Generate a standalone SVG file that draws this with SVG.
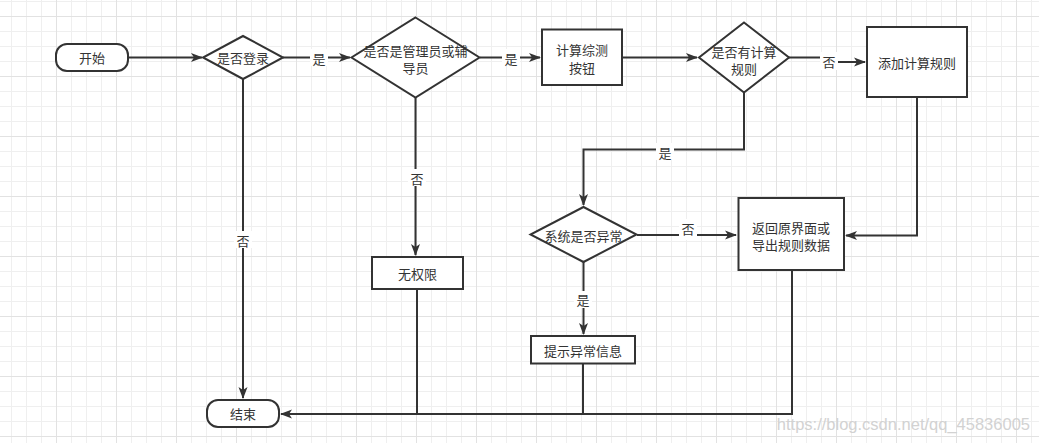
<svg xmlns="http://www.w3.org/2000/svg" width="1039" height="443" viewBox="0 0 1039 443">
<style>
.n{fill:#fff;stroke:#333;stroke-width:2}
.t{font-family:"Noto Sans CJK SC","Noto Sans CJK JP",sans-serif;font-size:13px;fill:#333;text-anchor:middle;dominant-baseline:central}
.c{fill:none;stroke:#333;stroke-width:2}
.lb{fill:#fff}
</style>
<defs>
<pattern id="grid" width="60" height="60" patternUnits="userSpaceOnUse" x="-4" y="-44">
<rect width="60" height="60" fill="#fff"/>
<rect x="15" y="0" width="1" height="60" fill="#efefef"/>
<rect x="30" y="0" width="1" height="60" fill="#efefef"/>
<rect x="45" y="0" width="1" height="60" fill="#efefef"/>
<rect x="0" y="15" width="60" height="1" fill="#efefef"/>
<rect x="0" y="30" width="60" height="1" fill="#efefef"/>
<rect x="0" y="45" width="60" height="1" fill="#efefef"/>
<rect x="0" y="0" width="1" height="60" fill="#e2e2e2"/>
<rect x="0" y="0" width="60" height="1" fill="#e2e2e2"/>
</pattern>
<marker id="ar" markerWidth="12" markerHeight="10" refX="11" refY="5" orient="auto" markerUnits="userSpaceOnUse">
<path d="M0,0.5 L12,5 L0,9.5 L3,5 Z" fill="#333"/>
</marker>
</defs>
<rect width="1039" height="443" fill="url(#grid)"/>

<g id="connectors">
<path class="c" d="M128,57.5 H202" marker-end="url(#ar)"/>
<path class="c" d="M283,57.5 H350" marker-end="url(#ar)"/>
<path class="c" d="M480,57.5 H540" marker-end="url(#ar)"/>
<path class="c" d="M622,57.5 H697" marker-end="url(#ar)"/>
<path class="c" d="M789,57.5 H828 V62 H865" marker-end="url(#ar)"/>
<path class="c" d="M917,97 V235.5 H846" marker-end="url(#ar)"/>
<path class="c" d="M744,92 V149.5 H583.5 V205" marker-end="url(#ar)"/>
<path class="c" d="M637,235 H736" marker-end="url(#ar)"/>
<path class="c" d="M583.5,262 V334" marker-end="url(#ar)"/>
<path class="c" d="M415.5,97 V255" marker-end="url(#ar)"/>
<path class="c" d="M243,79 V398" marker-end="url(#ar)"/>
<path class="c" d="M792,270 V414 H281" marker-end="url(#ar)"/>
<path class="c" d="M417,289 V414"/>
<path class="c" d="M583,363 V414"/>
<rect class="lb" x="310" y="49" width="18" height="17"/>
<text class="t" x="319" y="58">是</text>
<rect class="lb" x="502" y="49" width="18" height="17"/>
<text class="t" x="511" y="58">是</text>
<rect class="lb" x="820" y="52" width="18" height="18"/>
<text class="t" x="829" y="61">否</text>
<rect class="lb" x="656" y="143" width="18" height="17"/>
<text class="t" x="665" y="152">是</text>
<rect class="lb" x="679" y="219" width="18" height="21"/>
<text class="t" x="688" y="228">否</text>
<rect class="lb" x="574" y="291" width="18" height="17"/>
<text class="t" x="583" y="299">是</text>
<rect class="lb" x="408" y="169" width="18" height="17"/>
<text class="t" x="417" y="178">否</text>
<rect class="lb" x="234" y="231" width="18" height="17"/>
<text class="t" x="243" y="240">否</text>
</g>

<g id="start">
<rect class="n" x="56" y="44" width="72" height="27" rx="11"/>
<text class="t" x="92" y="57.5">开始</text>
</g>
<g id="isLogin">
<polygon class="n" points="243,36 283,57.5 243,79 203,57.5"/>
<text class="t" x="243" y="57.5">是否登录</text>
</g>
<g id="isAdmin">
<polygon class="n" points="415.5,17.5 479.5,57.5 415.5,97.5 351.5,57.5"/>
<text class="t" x="415.5" y="50">是否是管理员或辅</text>
<text class="t" x="415.5" y="67">导员</text>
</g>
<g id="calcButton">
<rect class="n" x="542" y="29.5" width="80" height="55.5"/>
<text class="t" x="582" y="49.5">计算综测</text>
<text class="t" x="582" y="67">按钮</text>
</g>
<g id="hasRule">
<polygon class="n" points="744,22.5 789,57.5 744,92.5 699,57.5"/>
<text class="t" x="744" y="51">是否有计算</text>
<text class="t" x="744" y="68">规则</text>
</g>
<g id="addRule">
<rect class="n" x="867" y="27" width="100" height="70"/>
<text class="t" x="917" y="62">添加计算规则</text>
</g>
<g id="sysError">
<polygon class="n" points="583.5,207 636.5,234.5 583.5,262 530.5,234.5"/>
<text class="t" x="583.5" y="235.5">系统是否异常</text>
</g>
<g id="returnExport">
<rect class="n" x="738.5" y="198" width="105.5" height="72"/>
<text class="t" x="791" y="227">返回原界面或</text>
<text class="t" x="791" y="244">导出规则数据</text>
</g>
<g id="noPermission">
<rect class="n" x="372" y="257" width="91" height="32"/>
<text class="t" x="417.5" y="273">无权限</text>
</g>
<g id="errorMsg">
<rect class="n" x="531" y="336" width="104" height="27.5"/>
<text class="t" x="583" y="350">提示异常信息</text>
</g>
<g id="end">
<rect class="n" x="207" y="400" width="72" height="27" rx="11"/>
<text class="t" x="243" y="413.5">结束</text>
</g>
<text x="1030" y="430" font-family="Liberation Sans, Arial, sans-serif" font-size="16.5" fill="#d2d2d2" text-anchor="end">https://blog.csdn.net/qq_45836005</text>
</svg>
